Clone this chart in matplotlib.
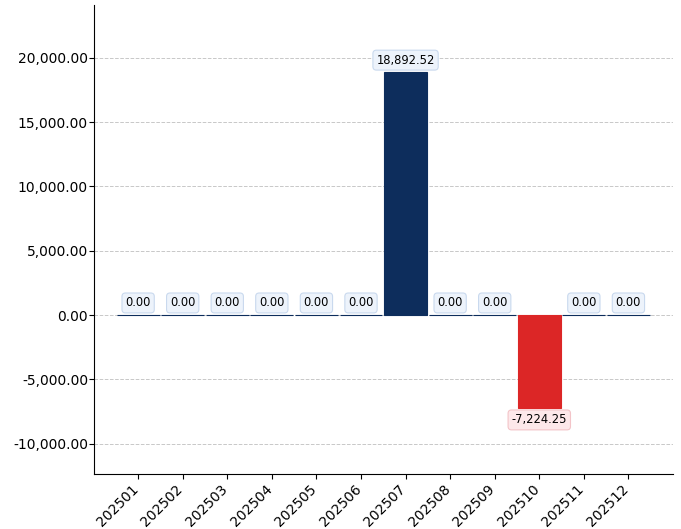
# -*- coding: utf8
'''
Monthly values bar chart with boxed value labels.
'''
from matplotlib import pyplot as plt
from matplotlib.ticker import FuncFormatter
from matplotlib.transforms import ScaledTranslation

months = ['202501', '202502', '202503', '202504', '202505', '202506',
          '202507', '202508', '202509', '202510', '202511', '202512']
values = [0.0, 0.0, 0.0, 0.0, 0.0, 0.0,
          18892.52, 0.0, 0.0, -7224.25, 0.0, 0.0]

POS_COLOR = '#0d2d5c'
NEG_COLOR = '#dc2626'


def main():
    fig = plt.figure(figsize=(6.81, 5.29), dpi=100)
    ax = fig.add_axes([94 / 681, 55 / 529, 579 / 681, 469 / 529])

    x = list(range(len(months)))
    colors = [NEG_COLOR if v < 0 else POS_COLOR for v in values]
    ax.bar(x, values, width=0.96, color=colors, edgecolor=colors,
           linewidth=0.8, zorder=3)

    for xi, v in zip(x, values):
        if v < 0:
            box = dict(boxstyle='round,pad=0.3', fc='#fde8ea', ec='#f3c4c8', lw=0.8)
            ax.annotate('{:,.2f}'.format(v), (xi, v), xytext=(0, -4),
                        textcoords='offset points', ha='center', va='top',
                        fontsize=8.3, bbox=box, zorder=4)
        else:
            box = dict(boxstyle='round,pad=0.3', fc='#edf3fb', ec='#c9d9ee', lw=0.8)
            ax.annotate('{:,.2f}'.format(v), (xi, v), xytext=(0, 4),
                        textcoords='offset points', ha='center', va='bottom',
                        fontsize=8.3, bbox=box, zorder=4)

    ax.set_xlim(-0.99, 12.0)
    ax.set_ylim(-12370, 24120)
    ax.set_yticks([-10000, -5000, 0, 5000, 10000, 15000, 20000])
    ax.yaxis.set_major_formatter(FuncFormatter(lambda v, p: '{:,.2f}'.format(v)))
    ax.tick_params(axis='y', pad=0.8)
    ax.tick_params(axis='x', pad=2.5)
    ax.set_xticks(x)
    ax.set_xticklabels(months, rotation=45, ha='right')
    shift = ScaledTranslation(3 / 100, 0, fig.dpi_scale_trans)
    for lbl in ax.get_xticklabels():
        lbl.set_transform(lbl.get_transform() + shift)

    ax.grid(axis='y', linestyle='--', color='#c8c8c8', linewidth=0.7, zorder=0)
    ax.spines['top'].set_visible(False)
    ax.spines['right'].set_visible(False)

    fig.savefig('out.png', dpi=100)


if __name__ == '__main__':
    main()
